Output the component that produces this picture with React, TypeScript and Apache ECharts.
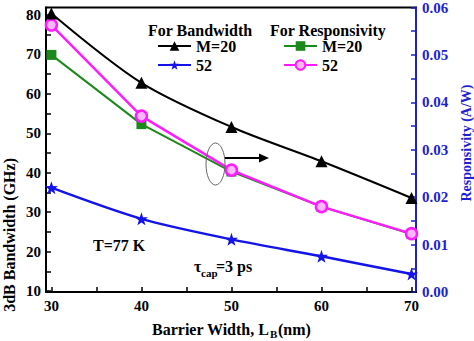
import React, { useEffect, useRef } from "react";
import * as echarts from "echarts";

const barrierWidth = [30, 40, 50, 60, 70];
const bandwidthM20 = [80.4, 62.8, 51.6, 42.9, 33.6];
const bandwidthM52 = [36.2, 28.3, 23.1, 18.8, 14.3];
const responsivityM20 = [0.0500, 0.0354, 0.0254, 0.0180, 0.0122];
const responsivityM52 = [0.0563, 0.0371, 0.0257, 0.0180, 0.0123];

const xLabels = [30, 40, 50, 60, 70];
const xTicks = [30, 35, 40, 45, 50, 55, 60, 65, 70];
const leftLabels = [10, 20, 30, 40, 50, 60, 70, 80];
const leftTicks = [10, 15, 20, 25, 30, 35, 40, 45, 50, 55, 60, 65, 70, 75, 80];
const rightLabels = [0, 0.01, 0.02, 0.03, 0.04, 0.05, 0.06];
const rightTicks = [0, 0.005, 0.01, 0.015, 0.02, 0.025, 0.03, 0.035, 0.04, 0.045, 0.05, 0.055, 0.06];

const FONT = "'Liberation Serif', 'Times New Roman', serif";
const BLUE = "#1414e8";
const AXIS_BLUE = "#1e1ed2";
const GREEN = "#1b8a1b";
const MAGENTA = "#ff1aff";
const STAR =
  "path://M0,-10L2.35,-3.24L9.51,-3.09L3.8,1.24L5.88,8.09L0,4L-5.88,8.09L-3.8,1.24L-9.51,-3.09L-2.35,-3.24Z";

const legendNames: Record<string, string> = {
  bwM20: "M=20",
  bwM52: "52",
  rM20: "M=20",
  rM52: "52",
};

const pair = (xs: number[], ys: number[]) => xs.map((x, i) => [x, ys[i]]);

export default function App() {
  const ref = useRef<HTMLDivElement>(null);
  useEffect(() => {
    if (!ref.current) return;
    const chart = echarts.init(ref.current, null, { renderer: "svg" });
    const labelStyle = { fontFamily: FONT, fontWeight: "bold" as const, fontSize: 15 };
    const legendBase = {
      orient: "vertical" as const,
      padding: 0,
      itemWidth: 33,
      itemHeight: 12,
      itemGap: 0,
      textStyle: { fontFamily: FONT, fontWeight: "bold" as const, fontSize: 16, color: "#000" },
      formatter: (n: string) => legendNames[n] ?? n,
      selectedMode: false,
    };
    chart.setOption({
      animation: false,
      backgroundColor: "#fff",
      grid: {
        left: 46,
        right: 58,
        top: 7,
        bottom: 49,
        show: true,
        borderColor: "#000",
        borderWidth: 2,
      },
      xAxis: {
        type: "value",
        min: 29.4,
        max: 70.5,
        splitLine: { show: false },
        axisLine: { lineStyle: { color: "#000", width: 2 } },
        axisTick: { inside: true, length: 5, lineStyle: { color: "#000", width: 1.5 }, customValues: xTicks },
        axisLabel: { ...labelStyle, color: "#000", margin: 6, customValues: xLabels },
      },
      yAxis: [
        {
          type: "value",
          min: 9.75,
          max: 81.9,
          splitLine: { show: false },
          axisLine: { show: true, lineStyle: { color: "#000", width: 2 } },
          axisTick: { show: true, inside: true, length: 5, lineStyle: { color: "#000", width: 1.5 }, customValues: leftTicks },
          axisLabel: { ...labelStyle, color: "#000", margin: 5, customValues: leftLabels },
        },
        {
          type: "value",
          position: "right",
          min: 0,
          max: 0.06,
          splitLine: { show: false },
          axisLine: { show: true, lineStyle: { color: AXIS_BLUE, width: 2 } },
          axisTick: { show: true, inside: true, length: 5, lineStyle: { color: AXIS_BLUE, width: 1.5 }, customValues: rightTicks },
          axisLabel: {
            ...labelStyle,
            color: AXIS_BLUE,
            margin: 6,
            customValues: rightLabels,
            formatter: (v: number) => v.toFixed(2),
          },
        },
      ],
      legend: [
        { ...legendBase, left: 157, top: 38, data: ["bwM20", "bwM52"], itemGap: 3 },
        { ...legendBase, left: 283, top: 38, data: ["rM20", "rM52"], itemGap: 3 },
      ],
      series: [
        {
          name: "rM20",
          type: "line",
          yAxisIndex: 1,
          data: pair(barrierWidth, responsivityM20),
          color: GREEN,
          symbol: "rect",
          symbolSize: 10,
          lineStyle: { width: 2, color: GREEN },
          itemStyle: { color: GREEN },
          z: 2,
        },
        {
          name: "rM52",
          type: "line",
          yAxisIndex: 1,
          data: pair(barrierWidth, responsivityM52),
          color: MAGENTA,
          symbol: "circle",
          symbolSize: 11,
          lineStyle: { width: 2.5, color: MAGENTA },
          itemStyle: { color: "#ffb8ff", borderColor: MAGENTA, borderWidth: 2.5 },
          z: 3,
        },
        {
          name: "bwM20",
          type: "line",
          yAxisIndex: 0,
          data: pair(barrierWidth, bandwidthM20),
          color: "#000",
          smooth: 0.3,
          symbol: "triangle",
          symbolSize: 12,
          lineStyle: { width: 2, color: "#000" },
          itemStyle: { color: "#000" },
          z: 4,
        },
        {
          name: "bwM52",
          type: "line",
          yAxisIndex: 0,
          data: pair(barrierWidth, bandwidthM52),
          color: BLUE,
          smooth: 0.3,
          symbol: STAR,
          symbolSize: 13,
          lineStyle: { width: 2.5, color: BLUE },
          itemStyle: { color: BLUE },
          z: 4,
        },
      ],
      graphic: [
        {
          type: "text",
          left: 9 - 8,
          top: 158,
          rotation: Math.PI / 2,
          style: {
            text: "3dB Bandwidth (GHz)",
            fontFamily: FONT,
            fontWeight: "bold",
            fontSize: 16,
            fill: "#000",
            align: "center",
            verticalAlign: "middle",
          },
          x: 10,
          y: 158,
        },
        {
          type: "text",
          x: 466,
          y: 143,
          rotation: Math.PI / 2,
          style: {
            text: "Responsivity (A/W)",
            fontFamily: FONT,
            fontWeight: "bold",
            fontSize: 14,
            fill: AXIS_BLUE,
            align: "center",
            verticalAlign: "middle",
          },
        },
        {
          type: "text",
          x: 152,
          y: 329,
          style: { text: "Barrier Width, L", fontFamily: FONT, fontWeight: "bold", fontSize: 16, fill: "#000", align: "left", verticalAlign: "middle" },
        },
        {
          type: "text",
          x: 270,
          y: 334,
          style: { text: "B", fontFamily: FONT, fontWeight: "bold", fontSize: 11, fill: "#000", align: "left", verticalAlign: "middle" },
        },
        {
          type: "text",
          x: 278,
          y: 329,
          style: { text: "(nm)", fontFamily: FONT, fontWeight: "bold", fontSize: 16, fill: "#000", align: "left", verticalAlign: "middle" },
        },
        {
          type: "text",
          x: 148,
          y: 30,
          style: { text: "For Bandwidth", fontFamily: FONT, fontWeight: "bold", fontSize: 16, fill: "#000", align: "left", verticalAlign: "middle" },
        },
        {
          type: "text",
          x: 270,
          y: 30,
          style: { text: "For Responsivity", fontFamily: FONT, fontWeight: "bold", fontSize: 16, fill: "#000", align: "left", verticalAlign: "middle" },
        },
        {
          type: "text",
          x: 93,
          y: 245,
          style: { text: "T=77 K", fontFamily: FONT, fontWeight: "bold", fontSize: 16, fill: "#000", align: "left", verticalAlign: "middle" },
        },
        {
          type: "text",
          x: 194,
          y: 266,
          style: { text: "τ", fontFamily: FONT, fontWeight: "bold", fontSize: 16, fill: "#000", align: "left", verticalAlign: "middle" },
        },
        {
          type: "text",
          x: 201,
          y: 273,
          style: { text: "cap", fontFamily: FONT, fontWeight: "bold", fontSize: 11, fill: "#000", align: "left", verticalAlign: "middle" },
        },
        {
          type: "text",
          x: 216,
          y: 266,
          style: { text: "=3 ps", fontFamily: FONT, fontWeight: "bold", fontSize: 16, fill: "#000", align: "left", verticalAlign: "middle" },
        },
        {
          type: "ellipse",
          shape: { cx: 215.5, cy: 164, rx: 9.5, ry: 21 },
          style: { fill: "none", stroke: "#666", lineWidth: 1 },
          z: 10,
        },
        {
          type: "line",
          shape: { x1: 225, y1: 158, x2: 262, y2: 158 },
          style: { stroke: "#000", lineWidth: 2 },
          z: 10,
        },
        {
          type: "polygon",
          shape: { points: [[259, 153.5], [269, 158], [259, 162.5]] },
          style: { fill: "#000" },
          z: 10,
        },
      ],
    });
    return () => chart.dispose();
  }, []);
  return (
    <div
      ref={ref}
      style={{ position: "fixed", left: 0, top: 0, width: 474, height: 341 }}
    />
  );
}
